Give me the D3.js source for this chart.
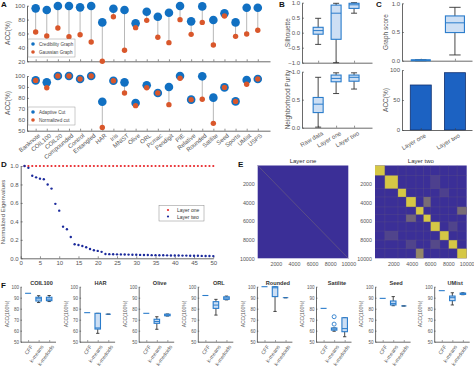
<!DOCTYPE html>
<html lang="en">
<head>
<meta charset="UTF-8">
<script src="https://cdnjs.cloudflare.com/ajax/libs/d3/7.8.5/d3.min.js"></script>
<style>
body { margin: 0; background: #fff; }
svg { font-family: "Liberation Sans", Arial, sans-serif; }
</style>
</head>
<body>
<svg id="fig" width="474" height="367"></svg>
<script>
// ---- data ----
const datasets = ["Banknote","COIL100","COIL20","Compounded","Control","Entangled","HAR","Iris","MNIST","Olive","ORL","Pcmac","Pendigit","PIE","Relative","Rounded","Satilite","Seed","Sports","UMist","USPS"];
const credibilityAcc = [96.2, 93.8, 99.5, 99.5, 97.6, 99.5, 76, 95.7, 93.8, 74.6, 91.4, 84.2, 89.9, 99.5, 77.5, 99, 79.4, 89, 76, 97.1, 97];
const gaussianAcc = [62.2, 56.4, 67.9, 55.5, 58.3, 47.8, 20, 84.2, 35.8, 68.4, 78.9, 54.5, 46.8, 79.9, 58.8, 76, 43.5, 85.1, 55.9, 59.3, 64.6];
const adaptiveAcc = [96, 94.2, 100, 100, 97.3, 100, 76.5, 95.7, 94.2, 75.3, 91.5, 84.5, 89.9, 100, 78.4, 99.7, 80.2, 89.6, 76.8, 96.3, 97.3];
const ncutAcc = [96, 89.3, 100, 100, 97.3, 100, 53, 95.7, 84.5, 72.9, 89.3, 84.5, 73.8, 97.9, 78.4, 78.7, 56.7, 89.6, 76.8, 92.4, 97.3];

// box stats: [min, q1, median, q3, max]
const layerNames = ["Raw data", "Layer one", "Layer two"];
const silhouetteStats = [[-0.39, -0.05, 0.07, 0.18, 0.48], [-1, -0.22, 0.65, 0.92, 0.98], [0.65, 0.81, 0.93, 0.98, 1.0]];
const purityStats = [[0.01, 0.27, 0.42, 0.54, 0.9], [0.61, 0.82, 0.88, 0.94, 0.98], [0.69, 0.83, 0.9, 0.94, 0.98]];
const graphLayers = ["Layer one", "Layer two"];
const graphScoreStats = [[0, 0, 0.01, 0.015, 0.02], [0.1, 0.49, 0.66, 0.78, 0.93]];
const layerAcc = [75, 95.5];

const eigIndex = d3.range(1, 51);
const eigLayerOne = [1,1,1,1,1,1,1,1,1,1,1,1,1,1,1,1,1,1,1,1,1,1,1,1,1,1,1,1,1,1,1,1,1,1,1,1,1,1,1,1,1,1,1,1,1,1,1,1,1,1];
const eigLayerTwo = [1.0, 0.98, 0.895, 0.877, 0.863, 0.856, 0.8, 0.755, 0.59, 0.516, 0.343, 0.314, 0.231, 0.152, 0.144, 0.134, 0.12, 0.1, 0.087, 0.08, 0.07,
  0.047, 0.045, 0.044, 0.043, 0.042, 0.041, 0.04, 0.039, 0.038, 0.037, 0.036, 0.035, 0.034, 0.034, 0.033, 0.033, 0.032, 0.031, 0.03, 0.03, 0.029, 0.029, 0.028, 0.027, 0.027, 0.026, 0.025, 0.025, 0.024];

// cluster boundaries for the layer-two affinity matrix, and off-diagonal patches [row, col, level]
const clusterBounds = [0, 1070, 2500, 3390, 4460, 5290, 6070, 7070, 8040, 8960, 10000];
const offPatches = [[3, 5, 0.35], [5, 3, 0.3], [4, 9, 0.35], [9, 4, 0.5], [7, 1, 0.12], [8, 3, 0.12], [2, 7, 0.1], [6, 8, 0.12], [1, 6, 0.1], [8, 6, 0.15]];
const matTicks = [2000, 4000, 6000, 8000, 10000];

const fTitles = ["COIL100", "HAR", "Olive", "ORL", "Rounded", "Satilite", "Seed", "UMist"];
const methods = ["CFF", "k-means", "k-medoids"];
const cffAcc = [94, 76.4, 75.8, 92, 100, 80.3, 89.4, 96.4];
const kmeansStats = [[85.6, 87, 89, 90.4, 91.8], [57.6, 61.5, 62.5, 75.8, 75.8], [61.3, 66.7, 68.4, 70.4, 72.7], [74.2, 80.3, 83.3, 86.4, 88.5],
  [77.5, 91, 99, 100, 100], [59.5, 60.5, 61.5, 62.5, 62.5], [82.7, 83.4, 84.8, 87, 91], [83.4, 87.3, 90, 91.5, 94.5]];
const kmeansOutliers = [[], [], [], [], [], [66, 72.7], [], []];
const kmedoidsStats = [[86.5, 87.3, 88.7, 90.4, 92], [75, 75, 75, 75, 75], [73.3, 73.6, 74.2, 75, 75.2], [88, 88.5, 89.7, 90.8, 91.5],
  [90, 90, 90, 90, 90], [54.5, 59.1, 61.9, 71.8, 71.8], [82.5, 82.5, 82.5, 82.5, 82.5], [92.7, 93, 93.6, 94.2, 94.5]];

// ---- style ----
const blue = "#1170c2", orange = "#d9572b", stemC = "#b8b8b8";
const boxStroke = "#2a7ccb", boxFill = "#cddff4", whiskC = "#333";
const font = "Liberation Sans, Arial, sans-serif";
const svg = d3.select("#fig");

function styleAxis(g, fs) {
  g.attr("font-family", font);
  g.select(".domain").attr("stroke", "#444").attr("stroke-width", 0.8);
  g.selectAll(".tick line").attr("stroke", "#444").attr("stroke-width", 0.6);
  g.selectAll(".tick text").attr("fill", "#555").attr("font-size", fs);
  return g;
}
function yLabel(txt, x, y, fs) {
  svg.append("text").attr("transform", `translate(${x},${y}) rotate(-90)`)
    .attr("text-anchor", "middle").attr("font-size", fs).attr("fill", "#555").text(txt);
}
function panelLetter(t, x, y) {
  svg.append("text").attr("x", x).attr("y", y).attr("font-size", 8).attr("font-weight", "bold").attr("fill", "#111").text(t);
}
function rotateLabels(g, angle, dx, dy) {
  g.selectAll(".tick text").attr("text-anchor", "end")
    .attr("transform", `translate(${dx},${dy}) rotate(${angle})`).attr("y", 0).attr("dy", "0.35em");
}
function drawBox(g, cx, y, s, w) {
  g.append("line").attr("x1", cx).attr("x2", cx).attr("y1", y(s[0])).attr("y2", y(s[4])).attr("stroke", whiskC).attr("stroke-width", 0.9);
  [s[0], s[4]].forEach(v => g.append("line").attr("x1", cx - w * 0.3).attr("x2", cx + w * 0.3).attr("y1", y(v)).attr("y2", y(v)).attr("stroke", whiskC).attr("stroke-width", 0.9));
  g.append("rect").attr("x", cx - w / 2).attr("width", w).attr("y", y(s[3])).attr("height", Math.max(0, y(s[1]) - y(s[3])))
    .attr("fill", boxFill).attr("stroke", boxStroke).attr("stroke-width", 1.1);
  g.append("line").attr("x1", cx - w / 2).attr("x2", cx + w / 2).attr("y1", y(s[2])).attr("y2", y(s[2])).attr("stroke", boxStroke).attr("stroke-width", 1);
}

// ---- Panel A ----
const xA = d3.scaleLinear().domain([-0.78, 21.1]).range([27, 270]);
const yA1 = d3.scaleLinear().domain([20, 100]).range([61.3, 5.7]);
const yA2 = d3.scaleLinear().domain([50, 100]).range([130.7, 76]);

function lollipop(y, hi, lo, names, legendY) {
  const g = svg.append("g");
  styleAxis(g.append("g").attr("transform", `translate(0,${y.range()[0]})`)
    .call(d3.axisBottom(xA).tickValues(d3.range(datasets.length)).tickFormat("").tickSize(-2).tickSizeOuter(0)), 6);
  styleAxis(g.append("g").attr("transform", `translate(${xA.range()[0]},0)`)
    .call(d3.axisLeft(y).ticks(5).tickSize(-2).tickPadding(2).tickSizeOuter(0)), 6);
  g.selectAll(".stem").data(datasets).join("line").attr("class", "stem")
    .attr("x1", (d, i) => xA(i)).attr("x2", (d, i) => xA(i))
    .attr("y1", (d, i) => y(hi[i])).attr("y2", (d, i) => y(lo[i])).attr("stroke", stemC).attr("stroke-width", 1);
  g.selectAll(".hi").data(hi).join("circle").attr("class", "hi")
    .attr("cx", (d, i) => xA(i)).attr("cy", d => y(d)).attr("r", 4.3).attr("fill", blue);
  g.selectAll(".lo").data(lo).join("circle").attr("class", "lo")
    .attr("cx", (d, i) => xA(i)).attr("cy", d => y(d)).attr("r", 2.7).attr("fill", orange);
  const lg = g.append("g").attr("transform", `translate(28,${legendY})`);
  lg.append("rect").attr("width", 47).attr("height", 18).attr("fill", "#fff").attr("stroke", "#999").attr("stroke-width", 0.5);
  [[blue, names[0]], [orange, names[1]]].forEach((e, k) => {
    lg.append("circle").attr("cx", 5).attr("cy", 5 + k * 8).attr("r", 1.8).attr("fill", e[0]);
    lg.append("text").attr("x", 11).attr("y", 6.8 + k * 8).attr("font-size", 4.6).attr("fill", "#444").text(e[1]);
  });
  return g;
}
lollipop(yA1, credibilityAcc, gaussianAcc, ["Credibility Graph", "Gaussian Graph"], 39);
lollipop(yA2, adaptiveAcc, ncutAcc, ["Adaptive Cut", "Normalized cut"], 107);
const axA = styleAxis(svg.append("g").attr("transform", `translate(0,${yA2.range()[0]})`)
  .call(d3.axisBottom(xA).tickValues(d3.range(datasets.length)).tickFormat(i => datasets[i]).tickSize(0).tickSizeOuter(0)), 6);
axA.select(".domain").remove();
rotateLabels(axA, -40, 3, 4);
yLabel("ACC(%)", 10, 33, 6.5);
yLabel("ACC(%)", 10, 103, 6.5);
panelLetter("A", 1, 7);

// ---- Panel B ----
const xB = d3.scaleLinear().domain([0.1, 4]).range([302, 372]);
const yB1 = d3.scaleLinear().domain([-1, 1]).range([62.7, 2.7]);
const yB2 = d3.scaleLinear().domain([0, 1]).range([127.7, 71.7]);
[[yB1, silhouetteStats, [-1, -0.5, 0, 0.5, 1], "Silhouette"], [yB2, purityStats, [0, 0.5, 1], "Neighborhood Purity"]].forEach((p, k) => {
  const g = svg.append("g");
  const ax = styleAxis(g.append("g").attr("transform", `translate(0,${p[0].range()[0]})`)
    .call(d3.axisBottom(xB).tickValues([1, 2, 3]).tickFormat(k ? (d => layerNames[d - 1]) : "").tickSize(-2).tickSizeOuter(0)), 6);
  if (k) rotateLabels(ax, -30, 4, 5);
  styleAxis(g.append("g").attr("transform", `translate(${xB.range()[0]},0)`)
    .call(d3.axisLeft(p[0]).tickValues(p[2]).tickSize(-2).tickPadding(2).tickSizeOuter(0)), 6);
  p[1].forEach((s, i) => drawBox(g, xB(i + 1), p[0], s, 10));
  yLabel(p[3], 290, (p[0].range()[0] + p[0].range()[1]) / 2, 6.5);
});
panelLetter("B", 279, 7);

// ---- Panel C ----
const xC = d3.scaleLinear().domain([0.45, 2.5]).range([402, 472]);
const yC1 = d3.scaleLinear().domain([0, 1]).range([60.7, 3.3]);
const yC2 = d3.scaleLinear().domain([0, 100]).range([130, 70]);
{
  const g = svg.append("g");
  styleAxis(g.append("g").attr("transform", `translate(0,${yC1.range()[0]})`)
    .call(d3.axisBottom(xC).tickValues([1, 2]).tickFormat("").tickSize(-2).tickSizeOuter(0)), 6);
  styleAxis(g.append("g").attr("transform", `translate(${xC.range()[0]},0)`)
    .call(d3.axisLeft(yC1).tickValues([0, 0.5, 1]).tickSize(-2).tickPadding(2).tickSizeOuter(0)), 6);
  graphScoreStats.forEach((s, i) => drawBox(g, xC(i + 1), yC1, s, 19));
  yLabel("Graph score", 388, 32, 6.5);

  g.selectAll(".bar").data(layerAcc).join("rect").attr("class", "bar")
    .attr("x", (d, i) => xC(i + 1) - 10.5).attr("width", 21)
    .attr("y", d => yC2(d)).attr("height", d => yC2(0) - yC2(d))
    .attr("fill", "#1c62c2").attr("stroke", "#10306f").attr("stroke-width", 0.8);
  const ax = styleAxis(g.append("g").attr("transform", `translate(0,${yC2.range()[0]})`)
    .call(d3.axisBottom(xC).tickValues([1, 2]).tickFormat(d => graphLayers[d - 1]).tickSize(-2).tickSizeOuter(0)), 6);
  rotateLabels(ax, -30, 4, 5);
  styleAxis(g.append("g").attr("transform", `translate(${xC.range()[0]},0)`)
    .call(d3.axisLeft(yC2).tickValues([0, 50, 100]).tickSize(-2).tickPadding(2).tickSizeOuter(0)), 6);
  yLabel("ACC(%)", 388, 100, 6.5);
}
panelLetter("C", 376, 7);

// ---- Panel D ----
const xD = d3.scaleLinear().domain([0, 50]).range([20.7, 213.3]);
const yD = d3.scaleLinear().domain([0, 1]).range([258.3, 166]);
{
  const g = svg.append("g");
  styleAxis(g.append("g").attr("transform", `translate(0,${yD.range()[0]})`)
    .call(d3.axisBottom(xD).tickValues(d3.range(0, 51, 5)).tickSize(-2).tickPadding(2).tickSizeOuter(0)), 6);
  styleAxis(g.append("g").attr("transform", `translate(${xD.range()[0]},0)`)
    .call(d3.axisLeft(yD).tickValues([0, 0.2, 0.4, 0.6, 0.8, 1]).tickSize(-2).tickPadding(2).tickSizeOuter(0)), 6);
  g.selectAll(".l1").data(eigLayerOne).join("circle").attr("class", "l1")
    .attr("cx", (d, i) => xD(eigIndex[i])).attr("cy", d => yD(d)).attr("r", 1.1).attr("fill", "#e8272b");
  g.selectAll(".l2").data(eigLayerTwo).join("circle").attr("class", "l2")
    .attr("cx", (d, i) => xD(eigIndex[i])).attr("cy", d => yD(d)).attr("r", 1.2).attr("fill", "#1b2a9c");
  const lg = g.append("g").attr("transform", "translate(159,205.5)");
  lg.append("rect").attr("width", 45).attr("height", 15.5).attr("fill", "#fff").attr("stroke", "#888").attr("stroke-width", 0.5);
  [["#e8272b", "Layer one"], ["#1b2a9c", "Layer two"]].forEach((e, k) => {
    lg.append("circle").attr("cx", 9).attr("cy", 4.5 + k * 6.5).attr("r", 1.1).attr("fill", e[0]);
    lg.append("text").attr("x", 18).attr("y", 6.5 + k * 6.5).attr("font-size", 5).attr("fill", "#333").text(e[1]);
  });
  yLabel("Normalized Eigenvalues", 5, 212, 6);
}
panelLetter("D", 1, 167);

// ---- Panel E ----
const yE = d3.scaleLinear().domain([0, 10000]).range([165.5, 258.3]);
const heat = d3.scaleLinear().domain([0, 1]).range(["#3b2f97", "#eadc3a"]);
const fmtInt = d3.format("d");
function matrix(x0, x1, title, blocks) {
  const x = d3.scaleLinear().domain([0, 10000]).range([x0, x1]);
  const g = svg.append("g");
  g.append("rect").attr("x", x(0)).attr("y", yE(0)).attr("width", x(10000) - x(0)).attr("height", yE(10000) - yE(0)).attr("fill", heat(0));
  if (blocks) {
    const cells = d3.range(10).map(i => [i, i, 0.88]).concat(offPatches);
    g.selectAll(".cell").data(cells).join("rect").attr("class", "cell")
      .attr("x", d => x(clusterBounds[d[1]])).attr("width", d => x(clusterBounds[d[1] + 1]) - x(clusterBounds[d[1]]))
      .attr("y", d => yE(clusterBounds[d[0]])).attr("height", d => yE(clusterBounds[d[0] + 1]) - yE(clusterBounds[d[0]]))
      .attr("fill", d => heat(d[2]));
    const inner = clusterBounds.slice(1, -1);
    g.selectAll(".vl").data(inner).join("line").attr("class", "vl")
      .attr("x1", d => x(d)).attr("x2", d => x(d)).attr("y1", yE(0)).attr("y2", yE(10000))
      .attr("stroke", heat(0.3)).attr("stroke-width", 0.4).attr("opacity", 0.6);
    g.selectAll(".hl").data(inner).join("line").attr("class", "hl")
      .attr("y1", d => yE(d)).attr("y2", d => yE(d)).attr("x1", x(0)).attr("x2", x(10000))
      .attr("stroke", heat(0.3)).attr("stroke-width", 0.4).attr("opacity", 0.6);
  } else {
    g.append("line").attr("x1", x(0)).attr("y1", yE(0)).attr("x2", x(10000)).attr("y2", yE(10000))
      .attr("stroke", heat(0.22)).attr("stroke-width", 0.8);
  }
  const ax = styleAxis(g.append("g").attr("transform", `translate(0,${yE(10000)})`)
    .call(d3.axisBottom(x).tickValues(matTicks).tickFormat(fmtInt).tickSize(0).tickPadding(4)), 5.3);
  ax.select(".domain").remove();
  const ay = styleAxis(g.append("g").attr("transform", `translate(${x(0)},0)`)
    .call(d3.axisLeft(yE).tickValues(matTicks).tickFormat(fmtInt).tickSize(0).tickPadding(3)), 5.3);
  ay.select(".domain").remove();
  g.append("text").attr("x", (x0 + x1) / 2).attr("y", 163).attr("text-anchor", "middle").attr("font-size", 6).attr("fill", "#333").text(title);
}
matrix(257.7, 348.3, "Layer one", false);
matrix(375, 466.7, "Layer two", true);
panelLetter("E", 238, 167);

// ---- Panel F ----
const yF = d3.scaleLinear().domain([50, 100]).range([341.7, 286.7]);
fTitles.forEach((t, i) => {
  const x0 = 20.5 + i * 59.1;
  const x = d3.scaleLinear().domain([0.28, 3.6]).range([x0, x0 + 35]);
  const g = svg.append("g");
  const ax = styleAxis(g.append("g").attr("transform", `translate(0,${yF(50)})`)
    .call(d3.axisBottom(x).tickValues([1, 2, 3]).tickFormat(d => methods[d - 1]).tickSize(-1.5).tickSizeOuter(0)), 5.2);
  rotateLabels(ax, -55, 3, 4);
  styleAxis(g.append("g").attr("transform", `translate(${x0},0)`)
    .call(d3.axisLeft(yF).tickValues([50, 60, 70, 80, 90, 100]).tickSize(-1.5).tickPadding(1.5).tickSizeOuter(0)), 4.5);
  g.append("line").attr("x1", x(1) - 3).attr("x2", x(1) + 3).attr("y1", yF(cffAcc[i])).attr("y2", yF(cffAcc[i]))
    .attr("stroke", boxStroke).attr("stroke-width", 1.1);
  drawBox(g, x(2), yF, kmeansStats[i], 5.5);
  drawBox(g, x(3), yF, kmedoidsStats[i], 5.5);
  g.selectAll(".out").data(kmeansOutliers[i]).join("circle").attr("class", "out")
    .attr("cx", x(2)).attr("cy", d => yF(d)).attr("r", 2).attr("fill", "none").attr("stroke", boxStroke).attr("stroke-width", 0.9);
  g.append("text").attr("x", x0 + 21).attr("y", 285).attr("text-anchor", "middle").attr("font-size", 5.6)
    .attr("font-weight", "bold").attr("fill", "#333").text(t);
  yLabel("ACC(100%)", x0 - 12, 314, 5);
});
panelLetter("F", 1, 288);
</script>
</body>
</html>
